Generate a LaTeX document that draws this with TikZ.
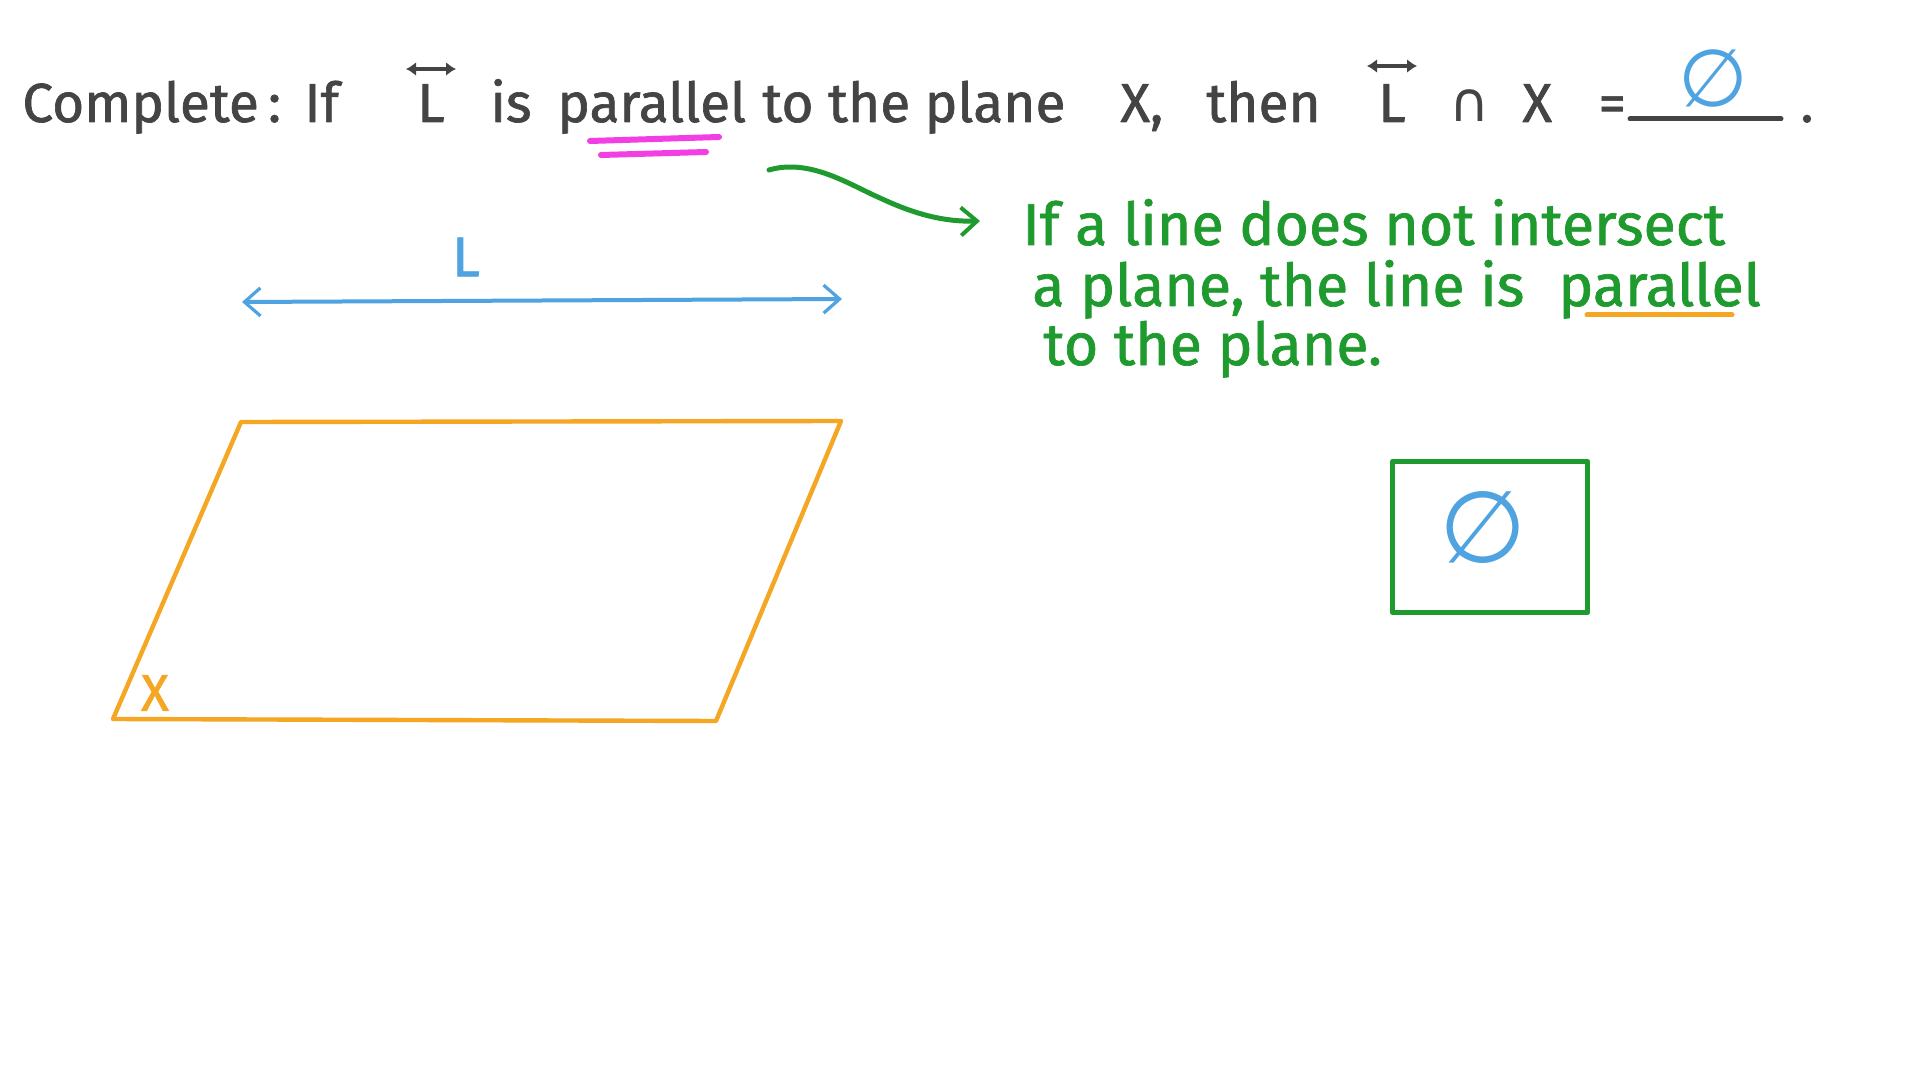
\documentclass[tikz,border=0pt]{standalone}
\usepackage{fontspec}
\setmainfont{Fira Sans}
\newfontfamily\handfont{Fira Sans}[FakeBold=1.2]
\newfontfamily\symfont{DejaVu Sans}
\usetikzlibrary{arrows.meta}
\definecolor{ink}{HTML}{444444}
\definecolor{magentaline}{HTML}{F23FE4}
\definecolor{greenink}{HTML}{1F9A2E}
\definecolor{blueink}{HTML}{4EA3E0}
\definecolor{orangeink}{HTML}{F5A623}
\tikzset{
  titletext/.style={text=ink, font=\handfont\fontsize{27.5}{34}\selectfont, inner sep=0pt, anchor=base west},
  greentext/.style={text=greenink, font=\handfont\fontsize{29.5}{34}\selectfont, inner sep=0pt, anchor=base west},
  overarrow/.style={draw=ink, line width=2.2pt, {Latex[length=5pt,width=7pt]}-{Latex[length=5pt,width=7pt]}},
}
\begin{document}
\begin{tikzpicture}[x=0.5pt,y=-0.5pt,line cap=round,line join=round]
\path[use as bounding box,fill=white] (0,0) rectangle (1920,1080);

% title line
\node[titletext] (complete) at (22,122) {Complete\,:};
\node[titletext] (if) at (304,122) {If};
\node[titletext,anchor=base] (la) at (431,122) {L};
\draw[overarrow] (406,69) coordinate (laL) -- (456,69) coordinate (laR);
\node[titletext] (is) at (490,122) {is};
\node[titletext] (par) at (557,122) {parallel};
\node[titletext] (tothe) at (762,122) {to the plane};
\node[titletext] (xa) at (1120,122) {X,};
\node[titletext] (then) at (1206,122) {then};
\node[titletext,anchor=base] (lb) at (1392,122) {L};
\draw[overarrow] (1367,66) coordinate (lbL) -- (1417,66) coordinate (lbR);
\node[titletext] (cap) at (1449,122) {\symfont ∩};
\node[titletext] (xb) at (1522,122) {X};
\node[titletext] (eq) at (1598,122) {=};
\coordinate (blankL) at (1630,119);
\coordinate (blankR) at (1781,119);
\draw[ink,line width=2.5pt] (blankL) -- (blankR);
\node[text=blueink,font=\symfont\fontsize{40}{44}\selectfont,inner sep=0pt] (empA) at (1713,78) {∅};
\node[titletext] (dot) at (1800,122) {.};

% magenta underline of "parallel"
\draw[magentaline,line width=3pt] (590,141) -- (719,137);
\draw[magentaline,line width=3pt] (601,155) -- (706,152);

% green note and arrow
\coordinate (arrS) at (769,170);
\node[greentext] (g1) at (1022,245) {If a line does not intersect};
\node[greentext] (g2) at (1032,306) {a plane, the line is};
\node[greentext] (g2p) at (1558,306) {parallel};
\node[greentext] (g3) at (1043,365) {to the plane.};
\coordinate (arrE) at (980,221);
\draw[greenink,line width=2.5pt,-{Straight Barb[length=8pt,width=14pt,line width=2pt]}]
  (arrS) .. controls (810,158) and (850,185) .. (880,198)
  .. controls (910,212) and (940,222) .. (arrE);
\draw[orangeink,line width=2.5pt] (1587,315) -- (1732,315);

% blue line L
\node[text=blueink,font=\handfont\fontsize{28}{32}\selectfont,inner sep=0pt] (lbl) at (466,257) {L};
\coordinate (lineL) at (242,302);
\coordinate (lineR) at (842,299);
\draw[blueink,line width=2pt,{Straight Barb[length=8pt,width=14pt,line width=1.6pt]}-{Straight Barb[length=8pt,width=14pt,line width=1.6pt]}] (lineL) -- (lineR);

% orange plane X
\coordinate (p1) at (241,422);
\coordinate (p2) at (841,421);
\coordinate (p3) at (716,721);
\coordinate (p4) at (113,719);
\draw[orangeink,line width=2.2pt] (p1) -- (p2) -- (p3) -- (p4) -- cycle;
\node[text=orangeink,font=\handfont\fontsize{26}{30}\selectfont,inner sep=0pt] (xlab) at (155,693) {X};

% green answer box
\node[draw=greenink,line width=2.6pt,minimum width=97.5pt,minimum height=75.5pt,inner sep=0pt] (box) at (1490,537) {};
\node[text=blueink,font=\symfont\fontsize{50}{54}\selectfont,inner sep=0pt] (empB) at (1483,527) {∅};
\end{tikzpicture}
\end{document}
